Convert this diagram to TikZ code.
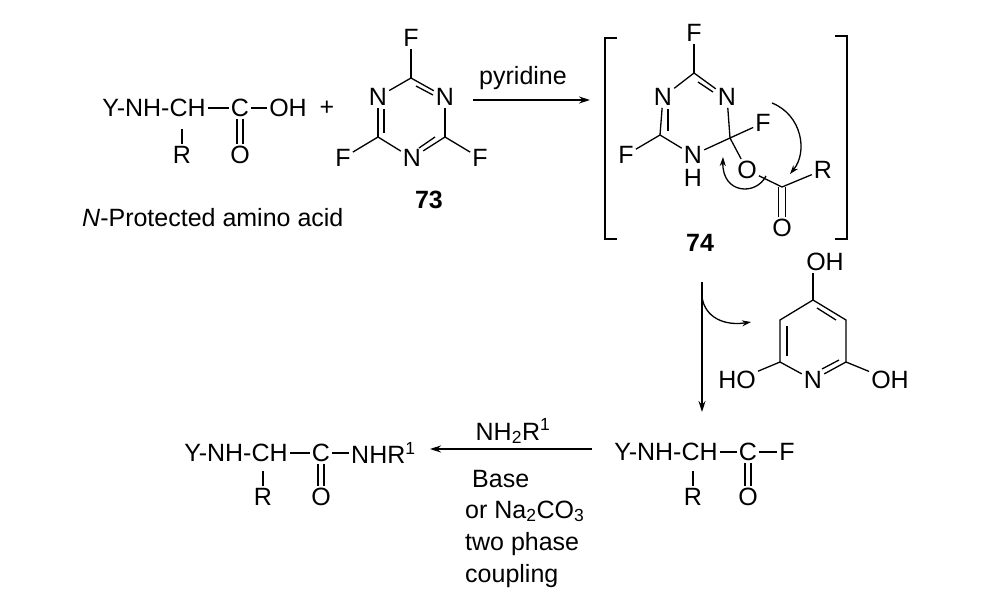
\documentclass[tikz,border=0pt]{standalone}
\usepackage{fontspec}
\setmainfont{Liberation Sans}
\usetikzlibrary{arrows.meta,calc}
\begin{document}
\begin{tikzpicture}[x=1pt,y=-1pt,
  every node/.style={font=\fontsize{25}{30}\selectfont,inner sep=2pt},
  bond/.style={line width=1.3pt},
  arr/.style={line width=1.3pt,-{Stealth[length=11pt,width=7pt]}},
  curv/.style={line width=1.3pt,-{Stealth[length=9pt,width=6pt]}},
  lbl/.style={font=\fontsize{25}{30}\bfseries\selectfont}]
\useasboundingbox (0,0) rectangle (989,611);
% ---- amino acid
\node (a1) at (154,108) {Y-NH-CH};
\node (a1c) at (240,108) {C};
\node (a1oh) at (288,108) {OH};
\node (a1r) at (182,155) {R};
\node (a1o) at (240,155) {O};
\draw[bond] (a1.east) -- (a1c.west);
\draw[bond] (a1c.east) -- (a1oh.west);
\draw[bond] (a1r.north) -- ++(0,-15);
\draw[bond] ([xshift=-3]a1c.south) -- ([xshift=-3]a1o.north);
\draw[bond] ([xshift=3]a1c.south) -- ([xshift=3]a1o.north);
\node[anchor=base west] (lab) at (80,226) {\textit{N}-Protected amino acid};
\node (plus) at (327,108) {+};
% ---- triazine 73
\coordinate (t1) at (411,78);
\coordinate (t2) at (378,137);
\coordinate (t3) at (445,137);
\node (tn1) at (378,97) {N};
\node (tn2) at (445,97) {N};
\node (tn3) at (412,158) {N};
\node (tf1) at (411,38) {F};
\node (tf2) at (343,158) {F};
\node (tf3) at (480,158) {F};
\draw[bond] (t1) -- (tf1);
\draw[bond] (t1) -- (tn1);
\draw[bond] (t1) -- (tn2);
\draw[bond] (416,86) -- (433,95);
\draw[bond] (tn1) -- (t2);
\draw[bond] (384,109) -- (384,133);
\draw[bond] (t2) -- (tn3);
\draw[bond] (t2) -- (tf2);
\draw[bond] (tn3) -- (t3);
\draw[bond] (419,148) -- (435,137);
\draw[bond] (t3) -- (tn2);
\draw[bond] (t3) -- (tf3);
\node[lbl] (n73) at (429,200) {73};
% ---- arrow 1
\coordinate (ar1s) at (473,100);
\coordinate (ar1e) at (590,100);
\draw[arr] (ar1s) -- (ar1e);
\node[anchor=base] (pyr) at (523,84) {pyridine};
% ---- brackets
\draw[bond] (617,38) -- (605,38) -- (605,239) -- (617,239);
\draw[bond] (835,36) -- (847,36) -- (847,239) -- (835,239);
% ---- intermediate 74
\coordinate (u1) at (694,73);
\coordinate (u2) at (660,135);
\coordinate (u3) at (730,138);
\coordinate (uc) at (782,187);
\node (un1) at (663,97) {N};
\node (un2) at (727,97) {N};
\node (unh) at (693,155) {N};
\node (uh) at (693,178) {H};
\node (uf1) at (694,33) {F};
\node (uf2) at (626,155) {F};
\node (uf3) at (763,123) {F};
\node (uo) at (747,170) {O};
\node (ur) at (823,170) {R};
\node (uo2) at (782,228) {O};
\draw[bond] (u1) -- (uf1);
\draw[bond] (u1) -- (un1);
\draw[bond] (u1) -- (un2);
\draw[bond] (698,82) -- (713,92);
\draw[bond] (un1) -- (u2);
\draw[bond] (668,109) -- (668,131);
\draw[bond] (u2) -- (uf2);
\draw[bond] (u2) -- (unh);
\draw[bond] (unh) -- (u3);
\draw[bond] (u3) -- (un2);
\draw[bond] (u3) -- (uf3);
\draw[bond] (u3) -- (uo);
\draw[bond] (uo) -- (uc);
\draw[bond] (uc) -- (ur);
\draw[bond] ([xshift=-3.5]uc) -- ([xshift=-3.5]uo2.north);
\draw[bond] ([xshift=3.5]uc) -- ([xshift=3.5]uo2.north);
\coordinate (cv1s) at (772,103);
\coordinate (cv1e) at (790,174);
\draw[curv] (cv1s) .. controls (802,115) and (808,152) .. (cv1e);
\coordinate (cv2s) at (766,176);
\coordinate (cv2e) at (723,157);
\draw[curv] (cv2s) .. controls (756,196) and (722,194) .. (cv2e);
\node[lbl] (n74) at (700,243) {74};
% ---- vertical arrow
\coordinate (ar2s) at (702,282);
\coordinate (ar2e) at (702,412);
\draw[arr] (ar2s) -- (ar2e);
\coordinate (cv3s) at (702,297);
\coordinate (cv3e) at (751,322);
\draw[curv] (cv3s) .. controls (705,318) and (725,326) .. (cv3e);
% ---- trihydroxypyridine
\coordinate (p4) at (813,300);
\coordinate (p3) at (780,320);
\coordinate (p5) at (846,320);
\coordinate (p2) at (780,362);
\coordinate (p6) at (846,362);
\node (pn) at (813,380) {N};
\node (poh1) at (825,262) {OH};
\node (pho) at (737,380) {HO};
\node (poh2) at (890,380) {OH};
\draw[bond] (p4) -- (p4 |- poh1.south);
\draw[bond] (p4) -- (p3) -- (p2) -- (pn) -- (p6) -- (p5) -- (p4);
\draw[bond] (787,326) -- (787,356);
\draw[bond] (817,308) -- (836,320);
\draw[bond] (822,369) -- (839,360);
\draw[bond] (p2) -- (pho);
\draw[bond] (p6) -- (poh2);
% ---- acyl fluoride
\node (b1) at (666,452) {Y-NH-CH};
\node (b1c) at (748,452) {C};
\node (b1f) at (787,452) {F};
\node (b1r) at (693,497) {R};
\node (b1o) at (748,497) {O};
\draw[bond] (b1.east) -- (b1c.west);
\draw[bond] (b1c.east) -- (b1f.west);
\draw[bond] (b1r.north) -- ++(0,-15);
\draw[bond] ([xshift=-3]b1c.south) -- ([xshift=-3]b1o.north);
\draw[bond] ([xshift=3]b1c.south) -- ([xshift=3]b1o.north);
% ---- arrow 3
\coordinate (ar3s) at (592,449);
\coordinate (ar3e) at (430,449);
\draw[arr] (ar3s) -- (ar3e);
\node[anchor=base] (nh2) at (513,440) {NH\textsubscript{2}R\textsuperscript{1}};
\node[anchor=base west] (c1) at (470,487) {Base};
\node[anchor=base west] (c2) at (463,518) {or Na\textsubscript{2}CO\textsubscript{3}};
\node[anchor=base west] (c3) at (463,550) {two phase};
\node[anchor=base west] (c4) at (463,582) {coupling};
% ---- amide
\node (d1) at (236,453) {Y-NH-CH};
\node (d1c) at (321,453) {C};
\node[anchor=west] (d1n) at (349,453) {NHR\textsuperscript{1}};
\node (d1r) at (263,497) {R};
\node (d1o) at (321,497) {O};
\draw[bond] (d1.east) -- (d1c.west);
\draw[bond] (d1c.east) -- (d1n.west);
\draw[bond] (d1r.north) -- ++(0,-15);
\draw[bond] ([xshift=-3]d1c.south) -- ([xshift=-3]d1o.north);
\draw[bond] ([xshift=3]d1c.south) -- ([xshift=3]d1o.north);
\end{tikzpicture}
\end{document}
